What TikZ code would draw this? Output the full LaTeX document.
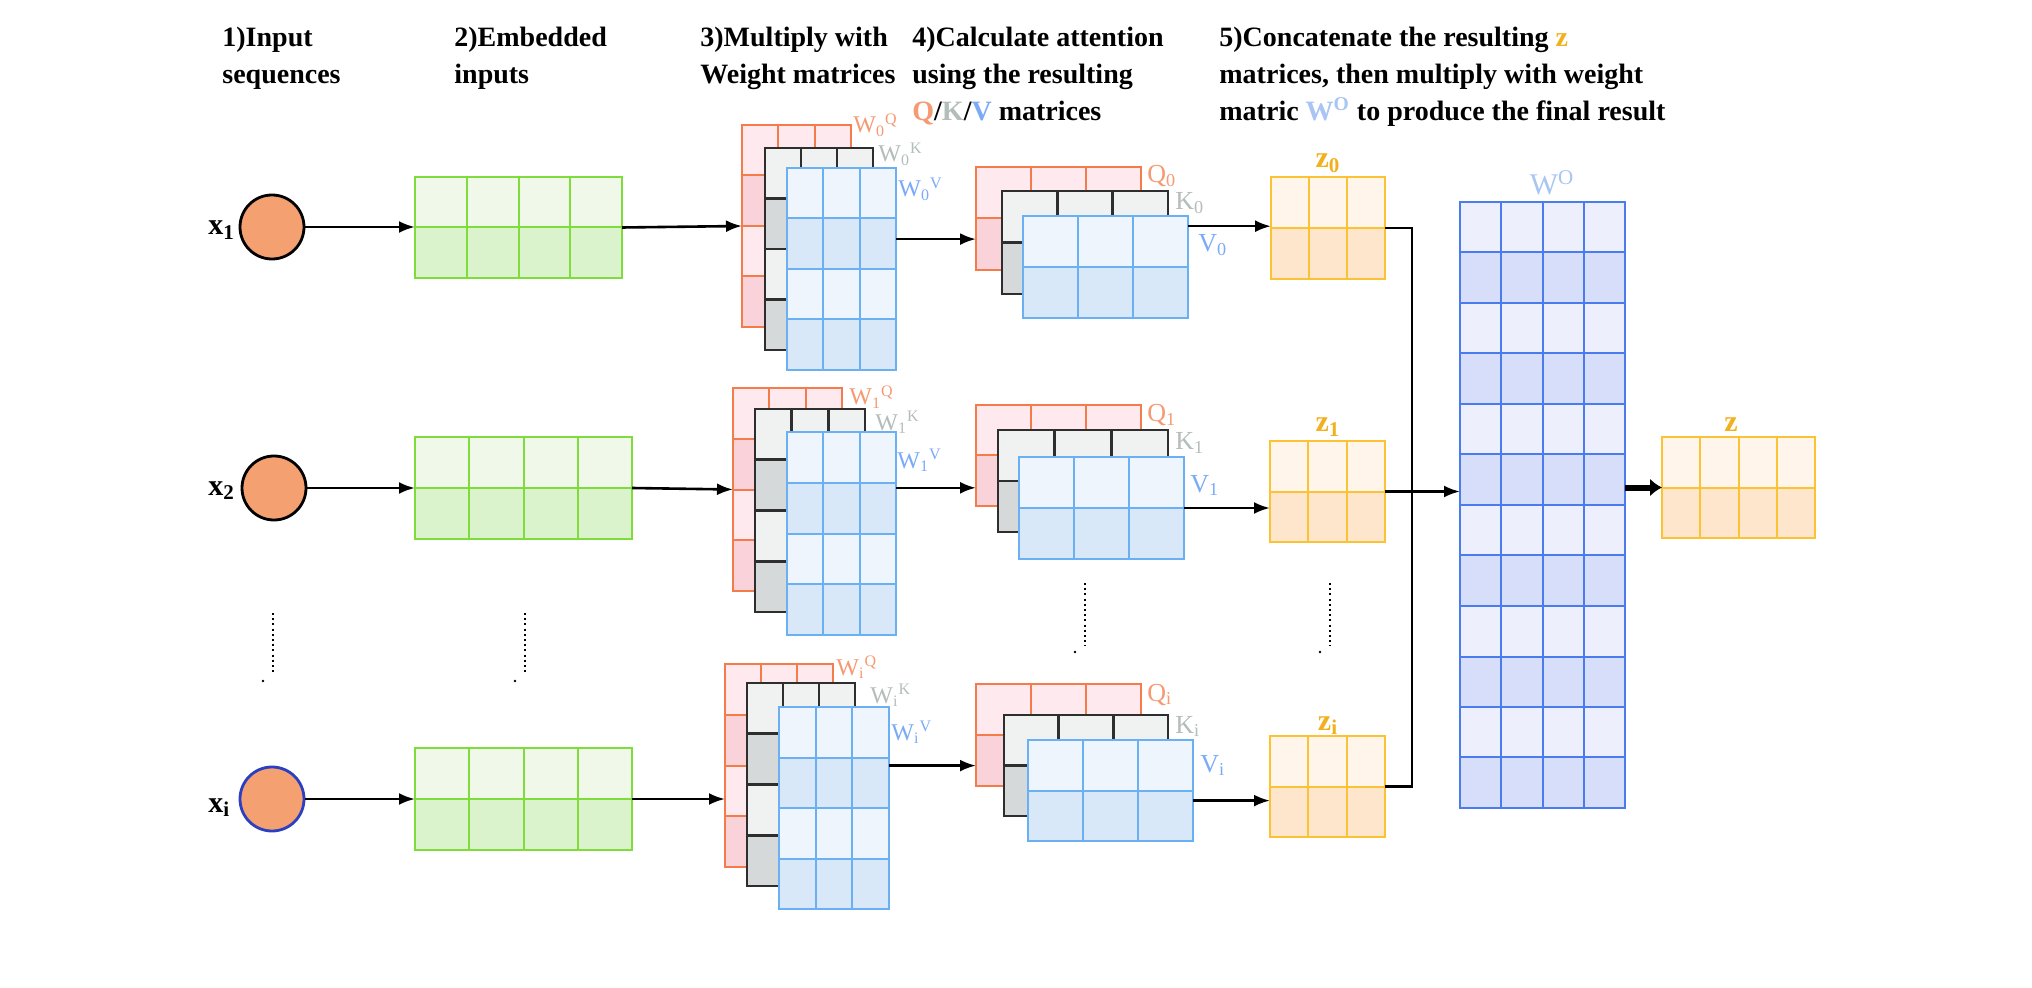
\documentclass[tikz,border=0pt]{standalone}
\usepackage{fontspec}
\setmainfont{Liberation Serif}
\usetikzlibrary{calc,positioning,arrows.meta}

\definecolor{qdraw}{HTML}{F47C4B}
\definecolor{qlight}{HTML}{FDE9EE}
\definecolor{qdark}{HTML}{F9D2DA}
\definecolor{kdraw}{HTML}{2E2E2E}
\definecolor{klight}{HTML}{F0F1F1}
\definecolor{kdark}{HTML}{D6D9D9}
\definecolor{vdraw}{HTML}{6AB0F2}
\definecolor{vlight}{HTML}{EEF5FD}
\definecolor{vdark}{HTML}{D8E8F8}
\definecolor{gdraw}{HTML}{7EDD3A}
\definecolor{glight}{HTML}{EFF8E9}
\definecolor{gdark}{HTML}{DAF3CD}
\definecolor{zdraw}{HTML}{FBC234}
\definecolor{zlight}{HTML}{FFF5EA}
\definecolor{zdark}{HTML}{FDE6CB}
\definecolor{odraw}{HTML}{4A7BEF}
\definecolor{olight}{HTML}{EDF0FC}
\definecolor{odark}{HTML}{D6DEF9}
\definecolor{inball}{HTML}{F5A071}
\definecolor{inedge}{HTML}{2B3FC2}
\definecolor{qtext}{HTML}{F59A72}
\definecolor{ktext}{HTML}{B3BDB9}
\definecolor{vtext}{HTML}{7BAAF7}
\definecolor{ztext}{HTML}{F2B01E}
\definecolor{otext}{HTML}{A8C5F4}

\tikzset{
  qline/.style={draw=qdraw,line width=1pt},
  kline/.style={draw=kdraw,line width=1.4pt},
  vline/.style={draw=vdraw,line width=1pt},
  gline/.style={draw=gdraw,line width=1pt},
  zline/.style={draw=zdraw,line width=1pt},
  oline/.style={draw=odraw,line width=1pt}
}

% grid matrix: name, x, y (top left), width, height, columns, rows, colour set
\newcommand{\gridmat}[8]{%
  \node[anchor=north west,inner sep=0pt,outer sep=0pt,minimum width=#4*0.5pt,minimum height=#5*0.5pt] (#1) at (#2,#3) {};
  \foreach \ri in {1,...,#7}{%
    \ifodd\ri\relax\def\rowcol{#8light}\else\def\rowcol{#8dark}\fi
    \pgfmathsetmacro\fa{(\ri-1)/#7}
    \pgfmathsetmacro\fb{\ri/#7}
    \fill[\rowcol] ($(#1.north west)!\fa!(#1.south west)$) rectangle ($(#1.north east)!\fb!(#1.south east)$);
  }
  \pgfmathtruncatemacro\gmlastc{#6-1}
  \foreach \ci in {1,...,\gmlastc}{%
    \pgfmathsetmacro\fc{\ci/#6}
    \draw[#8line] ($(#1.north west)!\fc!(#1.north east)$) -- ($(#1.south west)!\fc!(#1.south east)$);
  }
  \pgfmathtruncatemacro\gmlastr{#7-1}
  \foreach \ri in {1,...,\gmlastr}{%
    \pgfmathsetmacro\fc{\ri/#7}
    \draw[#8line] ($(#1.north west)!\fc!(#1.south west)$) -- ($(#1.north east)!\fc!(#1.south east)$);
  }
  \draw[#8line] (#1.north west) rectangle (#1.south east);
}

\begin{document}
\begin{tikzpicture}[x=0.5pt,y=-0.5pt,>={Latex[length=8pt,width=6pt]},
  title/.style={anchor=north west,inner sep=0pt,align=left,font=\fontsize{14}{18.5}\selectfont\bfseries},
  xin/.style={circle,draw,line width=1.4pt,fill=inball,minimum size=32pt,inner sep=0pt},
  xlab/.style={anchor=base west,inner sep=0pt,font=\fontsize{15}{18}\selectfont\bfseries},
  wlab/.style={anchor=base west,inner sep=0pt,font=\fontsize{12}{14}\selectfont},
  mlab/.style={anchor=base west,inner sep=0pt,font=\fontsize{13}{15}\selectfont},
  zlab/.style={anchor=base,inner sep=0pt,text=ztext,font=\fontsize{15}{18}\selectfont\bfseries},
  flow/.style={->,line width=1.3pt},
  dots/.style={line width=1.2pt,dash pattern=on 1pt off 1.6pt}]
\path[use as bounding box,fill=white] (0,0) rectangle (2032,988);

% headings
\node[title] (t1) at (222,27) {1)Input\\sequences};
\node[title] (t2) at (454,27) {2)Embedded\\inputs};
\node[title] (t3) at (700,27) {3)Multiply with\\Weight matrices};
\node[title] (t4) at (912,27) {4)Calculate attention\\using the resulting\\{\color{qtext}Q}/{\color{ktext}K}/{\color{vtext}V} matrices};
\node[title] (t5) at (1219,27) {5)Concatenate the resulting {\color{ztext}z}\\matrices, then multiply with weight\\matric {\color{otext}W\textsuperscript{O}} to produce the final result};

% inputs
\node[xin] (in0) at (272,227) {};
\node[xin] (in1) at (274,488) {};
\node[xin,draw=inedge] (ini) at (272,799) {};
\node[xlab] (x0) at (208,235) {x\textsubscript{1}};
\node[xlab] (x1) at (208,495) {x\textsubscript{2}};
\node[xlab] (xi) at (208,812) {x\textsubscript{i}};

% row 0
\gridmat{emb0}{415}{177}{207}{101}{4}{2}{g}
\gridmat{wq0}{742}{125}{109}{202}{3}{4}{q}
\gridmat{wk0}{765}{148}{108}{202}{3}{4}{k}
\gridmat{wv0}{787}{168}{109}{202}{3}{4}{v}
\gridmat{q0}{976}{167}{165}{103}{3}{2}{q}
\gridmat{k0}{1002}{191}{166}{103}{3}{2}{k}
\gridmat{v0}{1023}{216}{165}{102}{3}{2}{v}
\gridmat{z0}{1271}{177}{114}{102}{3}{2}{z}

% row 1
\gridmat{emb1}{415}{437}{217}{102}{4}{2}{g}
\gridmat{wq1}{733}{388}{109}{203}{3}{4}{q}
\gridmat{wk1}{755}{409}{110}{203}{3}{4}{k}
\gridmat{wv1}{787}{432}{109}{203}{3}{4}{v}
\gridmat{q1}{976}{405}{165}{101}{3}{2}{q}
\gridmat{k1}{998}{430}{170}{102}{3}{2}{k}
\gridmat{v1}{1019}{457}{165}{102}{3}{2}{v}
\gridmat{z1}{1270}{441}{115}{101}{3}{2}{z}

% row i
\gridmat{embi}{415}{748}{217}{102}{4}{2}{g}
\gridmat{wqi}{725}{664}{108}{203}{3}{4}{q}
\gridmat{wki}{747}{683}{108}{203}{3}{4}{k}
\gridmat{wvi}{779}{707}{110}{202}{3}{4}{v}
\gridmat{qi}{976}{684}{165}{102}{3}{2}{q}
\gridmat{ki}{1004}{715}{164}{101}{3}{2}{k}
\gridmat{vi}{1028}{740}{165}{101}{3}{2}{v}
\gridmat{zi}{1270}{736}{115}{101}{3}{2}{z}

% output side
\gridmat{wo}{1460}{202}{165}{606}{4}{12}{o}
\gridmat{zout}{1662}{437}{153}{101}{4}{2}{z}

% labels
\node[wlab,text=qtext] (lwq0) at (853,133) {W\textsubscript{0}\textsuperscript{Q}};
\node[wlab,text=ktext] (lwk0) at (878,162) {W\textsubscript{0}\textsuperscript{K}};
\node[wlab,text=vtext] (lwv0) at (898,197) {W\textsubscript{0}\textsuperscript{V}};
\node[wlab,text=qtext] (lwq1) at (849,405) {W\textsubscript{1}\textsuperscript{Q}};
\node[wlab,text=ktext] (lwk1) at (875,430) {W\textsubscript{1}\textsuperscript{K}};
\node[wlab,text=vtext] (lwv1) at (897,468) {W\textsubscript{1}\textsuperscript{V}};
\node[wlab,text=qtext] (lwqi) at (836,675) {W\textsubscript{i}\textsuperscript{Q}};
\node[wlab,text=ktext] (lwki) at (870,703) {W\textsubscript{i}\textsuperscript{K}};
\node[wlab,text=vtext] (lwvi) at (891,740) {W\textsubscript{i}\textsuperscript{V}};
\node[mlab,text=qtext] (lq0) at (1147,183) {Q\textsubscript{0}};
\node[mlab,text=ktext] (lk0) at (1175,210) {K\textsubscript{0}};
\node[mlab,text=vtext] (lv0) at (1198,252) {V\textsubscript{0}};
\node[mlab,text=qtext] (lq1) at (1147,422) {Q\textsubscript{1}};
\node[mlab,text=ktext] (lk1) at (1175,450) {K\textsubscript{1}};
\node[mlab,text=vtext] (lv1) at (1190,492) {V\textsubscript{1}};
\node[mlab,text=qtext] (lqi) at (1147,701) {Q\textsubscript{i}};
\node[mlab,text=ktext] (lki) at (1175,733) {K\textsubscript{i}};
\node[mlab,text=vtext] (lvi) at (1200,772) {V\textsubscript{i}};
\node[zlab] (lz0) at (1328,168) {z\textsubscript{0}};
\node[zlab] (lz1) at (1328,432) {z\textsubscript{1}};
\node[zlab] (lzi) at (1328,730) {z\textsubscript{i}};
\node[zlab] (lz) at (1731,432) {z};
\node[anchor=base,inner sep=0pt,text=otext,font=\fontsize{15}{18}\selectfont] (lwo) at (1552,195) {W\textsuperscript{O}};

% connectors
\draw[flow] (in0.east) -- (emb0.west |- in0.east);
\draw[flow] (in1.east) -- (emb1.west |- in1.east);
\draw[flow] (ini.east) -- (embi.west |- ini.east);
\draw[flow] (emb0.east) -- (wq0.west);
\draw[flow] (emb1.east) -- (wq1.west);
\draw[flow] (embi.east) -- (embi.east -| wqi.west);
\coordinate (a0) at ($(q0.north west)!0.7!(q0.south west)$);
\coordinate (a1) at ($(q1.north west)!0.82!(q1.south west)$);
\coordinate (ai) at ($(qi.north west)!0.8!(qi.south west)$);
\draw[flow] (wv0.east |- a0) -- (a0);
\draw[flow] (wv1.east |- a1) -- (a1);
\draw[flow] (wvi.east |- ai) -- (ai);
\coordinate (b0) at ($(v0.north east)!0.1!(v0.south east)$);
\coordinate (bi) at ($(vi.north east)!0.6!(vi.south east)$);
\draw[flow] (b0) -- (b0 -| z0.west);
\draw[flow] (v1.east) -- (v1.east -| z1.west);
\draw[flow] (bi) -- (bi -| zi.west);
\draw[line width=1.3pt] (z0.east) -- ++(27,0) |- (zi.east);
\draw[flow] (z1.east) -- (z1.east -| wo.west);
\draw[-{Latex[length=6pt,width=9pt]},line width=3pt] (wo.east |- zout.west) -- (zout.west);

% ellipsis dots
\draw[dots] (273,613) -- (273,673);
\fill (263,681) circle (1.3);
\draw[dots] (525,613) -- (525,673);
\fill (515,681) circle (1.3);
\draw[dots] (1085,583) -- (1085,646);
\fill (1075,652) circle (1.3);
\draw[dots] (1330,583) -- (1330,646);
\fill (1320,652) circle (1.3);
\end{tikzpicture}
\end{document}
